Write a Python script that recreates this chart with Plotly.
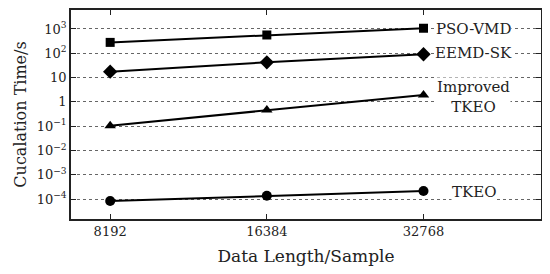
import plotly.graph_objects as go
import math

data_length = [8192, 16384, 32768]
pso_vmd = [280, 565, 1070]
eemd_sk = [17.5, 42.5, 91]
improved_tkeo = [0.105, 0.46, 1.92]
tkeo = [8.3e-5, 1.38e-4, 2.14e-4]

series = [
    ("PSO-VMD", pso_vmd, "square", 9),
    ("EEMD-SK", eemd_sk, "diamond", 11),
    ("Improved TKEO", improved_tkeo, "triangle-up", 10),
    ("TKEO", tkeo, "circle", 10),
]

y_tickvals = [1e3, 1e2, 10, 1, 1e-1, 1e-2, 1e-3, 1e-4]
y_ticktext = ["10<sup>3</sup>", "10<sup>2</sup>", "10", "1", "10<sup>−1</sup>",
              "10<sup>−2</sup>", "10<sup>−3</sup>", "10<sup>−4</sup>"]

font_family = "DejaVu Serif"

fig = go.Figure()
for name, vals, sym, sz in series:
    fig.add_trace(go.Scatter(
        x=data_length, y=vals, mode="lines+markers", name=name,
        line=dict(color="black", width=2),
        marker=dict(symbol=sym, size=sz, color="black"),
        showlegend=False,
    ))

x0 = math.log10(8192)
step = math.log10(2)

labels = [
    ("PSO-VMD", 3.0),
    ("EEMD-SK", 2.0),
    ("Improved<br>TKEO", 0.22),
    ("TKEO", -3.71),
]
lx = x0 + 2.32 * step
for txt, yv in labels:
    fig.add_annotation(x=lx, y=yv, text=txt, showarrow=False,
                       xref="x", yref="y", bgcolor="white", borderpad=0,
                       font=dict(family=font_family, size=15, color="#222"))

fig.update_layout(
    template="none",
    width=542, height=266,
    margin=dict(l=63, r=9, t=2, b=55, autoexpand=False),
    paper_bgcolor="white", plot_bgcolor="white",
    font=dict(family=font_family, color="#222", size=14),
    xaxis=dict(
        type="log", range=[x0 - 0.25 * step, x0 + 2.75 * step],
        tickvals=data_length, ticktext=[str(v) for v in data_length],
        ticks="inside", ticklen=5, tickcolor="#222", mirror="ticks",
        showline=True, linecolor="#222", linewidth=1.5,
        showgrid=False, zeroline=False, automargin=True,
        tickfont=dict(family=font_family, size=13),
        title=dict(text="Data Length/Sample", font=dict(family=font_family, size=17), standoff=12),
    ),
    yaxis=dict(
        type="log", range=[-4.82, 3.78],
        tickvals=y_tickvals, ticktext=y_ticktext,
        ticks="inside", ticklen=5, tickcolor="#222", mirror="ticks",
        showline=True, linecolor="#222", linewidth=1.5,
        showgrid=True, gridcolor="#666", griddash="dot", gridwidth=1,
        zeroline=False, automargin=True,
        tickfont=dict(family=font_family, size=13),
        title=dict(text="Cucalation Time/s", font=dict(family=font_family, size=16), standoff=6),
    ),
)

fig.write_html("out.html")
